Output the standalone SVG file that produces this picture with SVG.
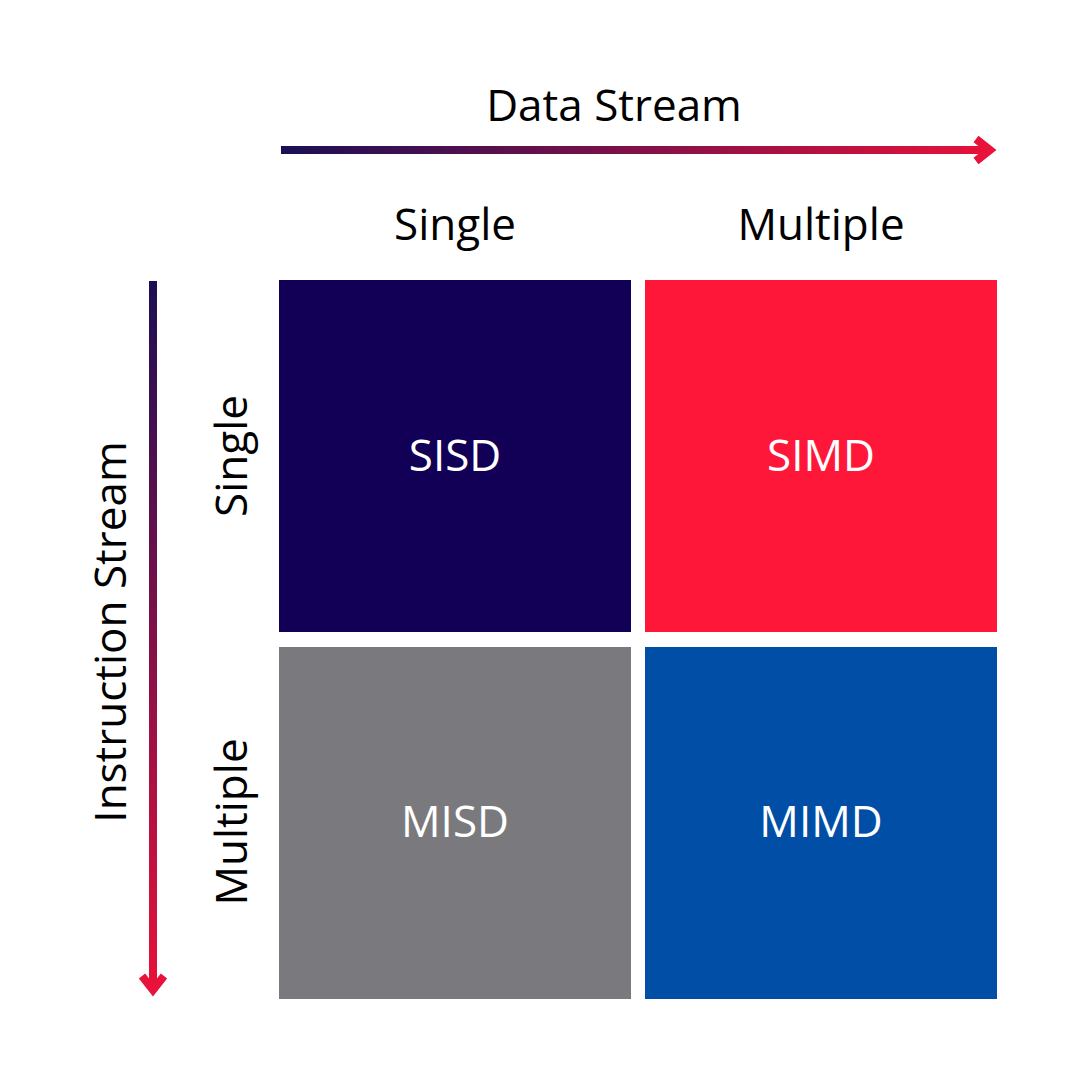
<svg xmlns="http://www.w3.org/2000/svg" width="1080" height="1080" viewBox="0 0 1080 1080">
<defs>
<style>
text{font-family:"Open Sans","Liberation Sans",sans-serif;font-size:44px;text-anchor:middle}
.h{fill:#000}
.c{fill:#fff}
</style>
<linearGradient id="gh" x1="0" y1="0" x2="1" y2="0"><stop offset="0" stop-color="#1a0f55"/><stop offset="1" stop-color="#e8123a"/></linearGradient>
<linearGradient id="gv" x1="0" y1="0" x2="0" y2="1"><stop offset="0" stop-color="#1a0f55"/><stop offset="1" stop-color="#e8123a"/></linearGradient>
</defs>
<rect width="1080" height="1080" fill="#fff"/>
<g id="connectors">
<rect x="281" y="146" width="710" height="8" fill="url(#gh)"/>
<polyline points="976,139 990,150 976,161" fill="none" stroke="#e8123a" stroke-width="8"/>
<rect x="149" y="281" width="8" height="710" fill="url(#gv)"/>
<polyline points="142,976 153,990 164,976" fill="none" stroke="#e8123a" stroke-width="8"/>
</g>
<g id="labels">
<text class="h" x="614" y="121">Data Stream</text>
<text class="h" x="455" y="240">Single</text>
<text class="h" x="821" y="240">Multiple</text>
<text class="h" transform="translate(126,632) rotate(-90)">Instruction Stream</text>
<text class="h" transform="translate(247,456) rotate(-90)">Single</text>
<text class="h" transform="translate(247,822) rotate(-90)">Multiple</text>
</g>
<g id="sisd"><rect x="279" y="280" width="352" height="352" fill="#110055"/><text class="c" x="455" y="471">SISD</text></g>
<g id="simd"><rect x="645" y="280" width="352" height="352" fill="#ff1739"/><text class="c" x="821" y="471">SIMD</text></g>
<g id="misd"><rect x="279" y="647" width="352" height="352" fill="#7a7a7e"/><text class="c" x="455" y="837">MISD</text></g>
<g id="mimd"><rect x="645" y="647" width="352" height="352" fill="#004ea6"/><text class="c" x="821" y="837">MIMD</text></g>
</svg>
